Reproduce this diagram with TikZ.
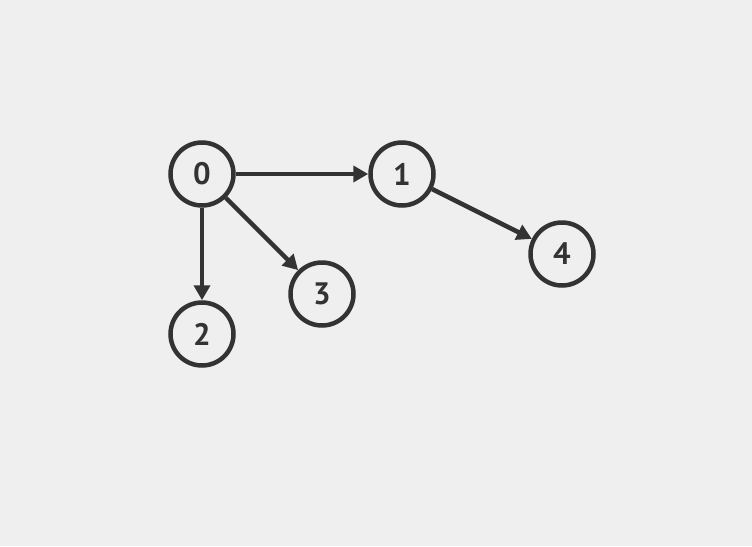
\documentclass[tikz,border=0pt]{standalone}
\usepackage{fontspec}
\setmainfont{PT Sans}
\usetikzlibrary{arrows.meta}
\usetikzlibrary{backgrounds}
\definecolor{inkgray}{HTML}{333333}
\definecolor{paper}{HTML}{EFEFEF}

\begin{document}
\begin{tikzpicture}[x=1pt,y=-1pt]
		\fill[paper] (0,0) rectangle (752,546);
		\useasboundingbox (0,0) rectangle (752,546);
		\begin{scope}[every node/.style={circle,draw=inkgray,line width=4.5pt,minimum size=63pt,inner sep=0pt,
		              text=inkgray,font=\fontsize{31}{31}\selectfont\bfseries}]
		    	\node (0) at (202,174) {0};
			\node (1) at (402,174) {1};
		    	\node (2) at (202,334) {2};
			\node (3) at (322,294) {3};
		    	\node (4) at (562,254) {4};
		\end{scope}
		
		\begin{scope}[>={Triangle[length=15pt,width=16pt]},
		              every edge/.style={draw=inkgray,line width=4.5pt,->}]
			\path (0) edge (1);
			\path (0) edge (2);
			\path (0) edge (3);
			\path (1) edge (4);
		\end{scope}
		\end{tikzpicture}
\end{document}
